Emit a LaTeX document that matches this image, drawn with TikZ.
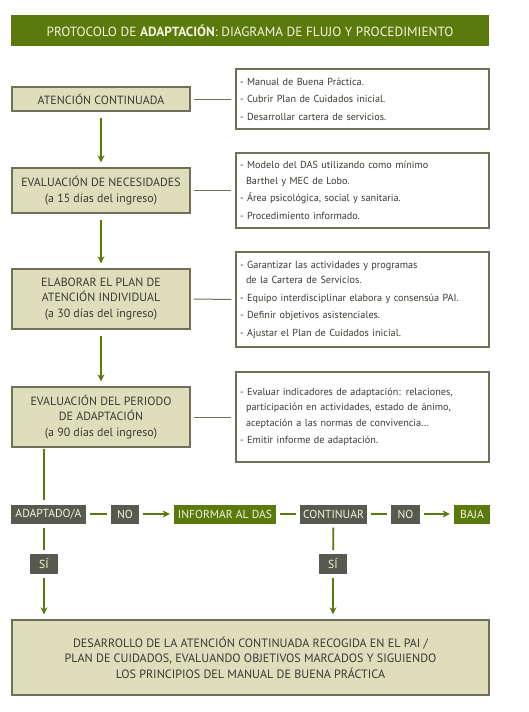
\documentclass[tikz,border=0pt]{standalone}
\usepackage{fontspec}
\setmainfont{PT Sans}
\usetikzlibrary{arrows.meta}
\definecolor{olive}{HTML}{5B7A0E}
\definecolor{beige}{HTML}{DEDEBC}
\definecolor{bordergray}{HTML}{6E7058}
\definecolor{darkbox}{HTML}{575B4F}
\definecolor{txtgray}{HTML}{3A3B33}
\definecolor{cream}{HTML}{F4F4DC}
\tikzset{
  mainbox/.style={draw=bordergray, line width=1.2pt, fill=beige, text=txtgray, align=center, inner sep=0pt, minimum width=178pt, font=\fontsize{11.9}{15.5}\selectfont},
  notebox/.style={draw=bordergray, line width=1.2pt, fill=white, text=txtgray, align=left, inner sep=0pt, minimum width=253pt, text width=248pt, font=\fontsize{10.2}{15.5}\selectfont},
  flowbox/.style={fill=darkbox, text=cream, inner sep=0pt, minimum height=19pt, font=\fontsize{11.6}{13}\selectfont},
  greenbox/.style={fill=olive, text=cream, inner sep=0pt, minimum height=19pt, font=\fontsize{11.6}{13}\selectfont},
  link/.style={draw=bordergray, line width=1pt, shorten <=3pt, shorten >=4pt},
  flow/.style={draw=olive, line width=1.8pt, shorten <=4pt, shorten >=4pt},
  flowarrow/.style={flow, -{Stealth[length=7pt,width=7pt,inset=2pt]}},
}
\begin{document}
\begin{tikzpicture}[x=1pt,y=-1pt]
\useasboundingbox (0,0) rectangle (529,712);
% title
\node[fill=olive, text=cream, minimum width=478pt, minimum height=31pt, inner sep=0pt, font=\fontsize{13.3}{15}\selectfont] (title) at (250,30.5) {PROTOCOLO DE \textbf{ADAPTACIÓN}: DIAGRAMA DE FLUJO Y PROCEDIMIENTO};
% main boxes
\node[mainbox, minimum height=24pt] (b1) at (101,99) {ATENCIÓN CONTINUADA};
\node[mainbox, minimum height=45pt] (b2) at (101,190.5) {EVALUACIÓN DE NECESIDADES\\(a 15 días del ingreso)};
\node[mainbox, minimum height=60pt] (b3) at (101,299) {ELABORAR EL PLAN DE\\ATENCIÓN INDIVIDUAL\\(a 30 días del ingreso)};
\node[mainbox, minimum height=60pt] (b4) at (101,417) {EVALUACIÓN DEL PERIODO\\DE ADAPTACIÓN\\(a 90 días del ingreso)};
% note boxes
\node[notebox, minimum height=60pt] (n1) at (362.5,99) {\hspace*{1.5pt}- Manual de Buena Práctica.\\[2pt]\hspace*{1.5pt}- Cubrir Plan de Cuidados inicial.\\[2pt]\hspace*{1.5pt}- Desarrollar cartera de servicios.};
\node[notebox, minimum height=75pt] (n2) at (362.5,190.5) {\hspace*{1.5pt}- Modelo del DAS utilizando como mínimo\\\hspace*{7.5pt}Barthel y MEC de Lobo.\\[2pt]\hspace*{1.5pt}- Área psicológica, social y sanitaria.\\[2pt]\hspace*{1.5pt}- Procedimiento informado.};
\node[notebox, minimum height=95pt] (n3) at (362.5,299.5) {\hspace*{1.5pt}- Garantizar las actividades y programas\\\hspace*{7.5pt}de la Cartera de Servicios.\\[2pt]\hspace*{1.5pt}- Equipo interdisciplinar elabora y consensúa PAI.\\[2pt]\hspace*{1.5pt}- Definir objetivos asistenciales.\\[2pt]\hspace*{1.5pt}- Ajustar el Plan de Cuidados inicial.};
\node[notebox, minimum height=90pt] (n4) at (362.5,417) {\hspace*{1.5pt}- Evaluar indicadores de adaptación: relaciones,\\\hspace*{7.5pt}participación en actividades, estado de ánimo,\\\hspace*{7.5pt}aceptación a las normas de convivencia...\\[2pt]\hspace*{1.5pt}- Emitir informe de adaptación.};
% links to notes
\draw[link] (b1.east) -- (n1.west);
\draw[link] (b2.east) -- (n2.west);
\draw[link] (b3.east) -- (n3.west);
\draw[link] (b4.east) -- (n4.west);
% main arrows
\draw[flowarrow, shorten <=6pt, shorten >=5pt] (b1) -- (b2);
\draw[flowarrow, shorten <=6pt, shorten >=5pt] (b2) -- (b3);
\draw[flowarrow, shorten <=6pt, shorten >=5pt] (b3) -- (b4);
% decision row
\node[flowbox, minimum width=75pt] (adapt) at (48.5,514) {ADAPTADO/A};
\node[flowbox, minimum width=28pt] (no1) at (125,514) {NO};
\node[greenbox, minimum width=102pt] (inf) at (225,514) {INFORMAR AL DAS};
\node[flowbox, minimum width=67pt] (cont) at (333.5,514) {CONTINUAR};
\node[flowbox, minimum width=29pt] (no2) at (405.5,514) {NO};
\node[greenbox, minimum width=36pt] (baja) at (472,514) {BAJA};
\node[flowbox, minimum width=28pt, minimum height=20pt] (si1) at (44,564) {SÍ};
\node[flowbox, minimum width=28pt, minimum height=20pt] (si2) at (333,564) {SÍ};
% bottom box
\node[mainbox, minimum width=477pt, minimum height=75pt, font=\fontsize{12.1}{15.5}\selectfont] (final) at (250.5,657.5) {DESARROLLO DE LA ATENCIÓN CONTINUADA RECOGIDA EN EL PAI /\\PLAN DE CUIDADOS, EVALUANDO OBJETIVOS MARCADOS Y SIGUIENDO\\LOS PRINCIPIOS DEL MANUAL DE BUENA PRÁCTICA};
% flow connections
\draw[flow, shorten <=1pt] (si1 |- b4.south) -- (si1 |- adapt.north);
\draw[flow] (adapt) -- (no1);
\draw[flowarrow] (no1) -- (inf);
\draw[flow] (inf) -- (cont);
\draw[flow] (cont) -- (no2);
\draw[flowarrow] (no2) -- (baja);
\draw[flow] (si1 |- adapt.south) -- (si1);
\draw[flowarrow, shorten >=5pt] (si1) -- (si1 |- final.north);
\draw[flow] (cont) -- (si2);
\draw[flowarrow, shorten >=5pt] (si2) -- (si2 |- final.north);
\end{tikzpicture}
\end{document}
